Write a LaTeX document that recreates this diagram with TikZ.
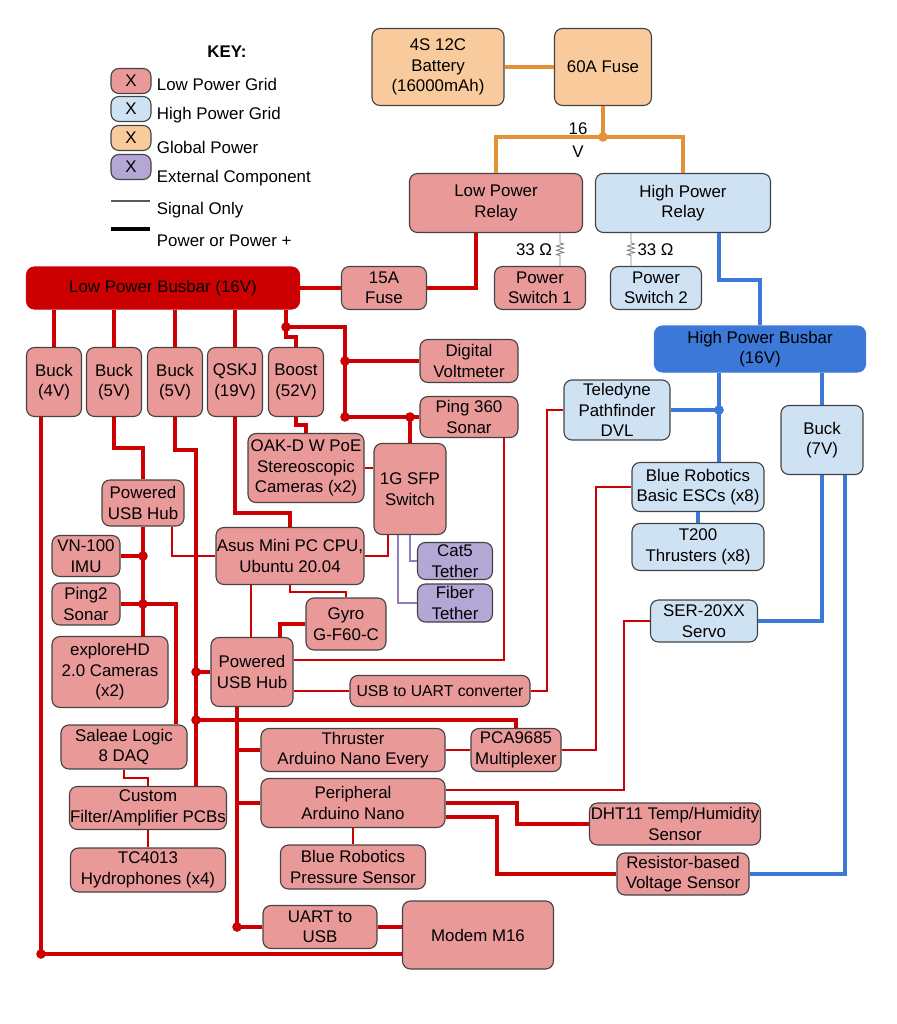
\documentclass[tikz,border=0pt]{standalone}
\usepackage{fontspec}
\setmainfont{Liberation Sans}
\usetikzlibrary{decorations.pathmorphing}
\definecolor{lpfill}{HTML}{EA9999}
\definecolor{lpline}{HTML}{CC0000}
\definecolor{hpfill}{HTML}{CFE2F3}
\definecolor{hpline}{HTML}{3C78D8}
\definecolor{gpfill}{HTML}{F9CB9C}
\definecolor{gpline}{HTML}{E69138}
\definecolor{exfill}{HTML}{B4A7D6}
\definecolor{exline}{HTML}{8E7CC3}
\definecolor{rim}{HTML}{434343}
\tikzset{
  box/.style 2 args={draw=rim,line width=0.8pt,rounded corners=0.2cm,align=center,
    inner sep=0.5pt,minimum width=#1*0.025cm,minimum height=#2*0.025cm},
  lp/.style={fill=lpfill},
  hp/.style={fill=hpfill},
  gp/.style={fill=gpfill},
  ex/.style={fill=exfill},
  pwr/.style={draw=lpline,line width=2.2pt},
  sig/.style={draw=lpline,line width=0.9pt},
  hpw/.style={draw=hpline,line width=2.2pt},
  gpw/.style={draw=gpline,line width=2.2pt},
  exw/.style={draw=exline,line width=0.9pt},
  dot/.style={fill=#1,draw=none,circle,minimum size=0.24cm,inner sep=0},
  res/.style={draw=gray,line width=0.6pt,decorate,
    decoration={zigzag,segment length=3pt,amplitude=2.5pt,pre length=7pt,post length=7pt}}
}
\begin{document}
\begin{tikzpicture}[x=0.025cm,y=-0.025cm,font=\fontsize{12}{14.6}\selectfont]
\useasboundingbox (0,0) rectangle (896,1024);

% key
\node[font=\fontsize{12}{14}\selectfont\bfseries] (key) at (227,52) {KEY:};
\node[box={40}{25},lp] (k1) at (131,81) {X};
\node[box={40}{25},hp] (k2) at (131,109) {X};
\node[box={40}{25},gp] (k3) at (131,138) {X};
\node[box={40}{25},ex] (k4) at (131,167) {X};
\node[anchor=west] (t1) at (152,84) {Low Power Grid};
\node[anchor=west] (t2) at (152,115) {High Power Grid};
\node[anchor=west] (t3) at (152,147) {Global Power};
\node[anchor=west] (t4) at (152,178) {External Component};
\node[anchor=west] (t5) at (152,210) {Signal Only};
\node[anchor=west] (t6) at (152,241) {Power or Power +};
\coordinate (s1) at (111,201);
\coordinate (s2) at (150,201);
\coordinate (p1) at (111,229);
\coordinate (p2) at (150,229);
\draw[gray!70!black,line width=1pt] (s1) -- (s2);
\draw[black,line width=2.5pt] (p1) -- (p2);

% global power
\node[box={132}{77},gp] (batt) at (438,67) {4S 12C\\Battery\\(16000mAh)};
\node[box={97}{77},gp] (fuse60) at (603,67) {60A Fuse};
\node[box={173}{59},lp] (lprelay) at (496,203) {Low Power\\Relay};
\node[box={175}{59},hp] (hprelay) at (683,203) {High Power\\Relay};
\node[box={85}{43},lp] (fuse15) at (384,288) {15A\\Fuse};
\node[box={91}{43},lp] (ps1) at (540,288) {Power\\Switch 1};
\node[box={91}{43},hp] (ps2) at (656,288) {Power\\Switch 2};
\node[box={273}{42},draw=lpline,fill=lpline] (lpbus) at (163,288) {Low Power Busbar (16V)};
\node[box={211}{46},draw=hpline,fill=hpline] (hpbus) at (760,349) {High Power Busbar\\(16V)};

% low power converters
\node[box={55}{69},lp] (bk1) at (54,382) {Buck\\(4V)};
\node[box={55}{69},lp] (bk2) at (114,382) {Buck\\(5V)};
\node[box={55}{69},lp] (bk3) at (175,382) {Buck\\(5V)};
\node[box={55}{69},lp] (bk4) at (235,382) {QSKJ\\(19V)};
\node[box={55}{69},lp] (boost) at (296,382) {Boost\\(52V)};

% low power devices
\node[box={98}{43},lp] (dvm) at (469,361) {Digital\\Voltmeter};
\node[box={98}{41},lp] (ping360) at (469,417) {Ping 360\\Sonar};
\node[box={116}{69},lp] (oak) at (306,468) {OAK-D W PoE\\Stereoscopic\\Cameras (x2)};
\node[box={72}{91},lp] (sw) at (410,489) {1G SFP\\Switch};
\node[box={75}{37},ex] (cat5) at (455,561) {Cat5\\Tether};
\node[box={75}{38},ex] (fiber) at (455,603) {Fiber\\Tether};
\node[box={148}{57},lp] (asus) at (290,556) {Asus Mini PC CPU,\\Ubuntu 20.04};
\node[box={82}{46},lp] (hub1) at (143,503) {Powered\\USB Hub};
\node[box={68}{41},lp] (imu) at (86,556) {VN-100\\IMU};
\node[box={68}{42},lp] (ping2) at (86,604) {Ping2\\Sonar};
\node[box={116}{71},lp] (explore) at (110,672) {exploreHD\\2.0 Cameras\\(x2)};
\node[box={80}{52},lp] (gyro) at (346,624) {Gyro\\G-F60-C};
\node[box={82}{69},lp] (hub2) at (252,672) {Powered\\USB Hub};
\node[box={180}{31},lp,font=\fontsize{11.2}{13}\selectfont] (usbuart) at (440,691) {USB to UART converter};
\node[box={126}{44},lp] (saleae) at (124,747) {Saleae Logic\\8 DAQ};
\node[box={155}{43},lp] (cpcb) at (148,808) {Custom\\Filter/Amplifier PCBs};
\node[box={155}{44},lp] (tc) at (148,870) {TC4013\\Hydrophones (x4)};
\node[box={184}{43},lp] (thr) at (353,750) {Thruster\\Arduino Nano Every};
\node[box={90}{43},lp] (pca) at (516,750) {PCA9685\\Multiplexer};
\node[box={184}{49},lp] (peri) at (353,803) {Peripheral\\Arduino Nano};
\node[box={171}{42},lp] (dht) at (675,824) {DHT11 Temp/Humidity\\Sensor};
\node[box={145}{44},lp] (press) at (353,867) {Blue Robotics\\Pressure Sensor};
\node[box={132}{42},lp] (rvs) at (683,874) {Resistor-based\\Voltage Sensor};
\node[box={114}{43},lp] (u2u) at (320,927) {UART to\\USB};
\node[box={151}{68},lp] (modem) at (478,935) {Modem M16};

% high power devices
\node[box={106}{60},hp] (dvl) at (617,410) {Teledyne\\Pathfinder\\DVL};
\node[box={82}{69},hp] (buck7) at (822,440) {Buck\\(7V)};
\node[box={132}{49},hp] (esc) at (698,487) {Blue Robotics\\Basic ESCs (x8)};
\node[box={132}{47},hp] (t200) at (698,547) {T200\\Thrusters (x8)};
\node[box={107}{42},hp] (servo) at (704,621) {SER-20XX\\Servo};

% global power lines
\coordinate (j16) at (603,137);
\draw[gpw] (batt) -- (fuse60);
\draw[gpw] (fuse60) -- (j16);
\draw[gpw] (j16) -| (lprelay.north);
\draw[gpw] (j16) -| (hprelay.north);
\node[dot=gpline] (d16) at (j16) {};
\node[align=center] (v16) at (578,140) {16\\[2pt]V};

% relay switches
\draw[res] (lprelay.south -| 560,0) -- (ps1.north -| 560,0) node[midway,left=2pt] {33 Ω};
\draw[res] (hprelay.south -| 631,0) -- (ps2.north -| 631,0) node[midway,right=1pt] {33 Ω};

% low power lines
\draw[pwr] (lprelay.south -| 476,0) |- (fuse15);
\draw[pwr] (lpbus) -- (fuse15);
\foreach \b in {bk1,bk2,bk3,bk4}
  \draw[pwr] (lpbus.south -| \b) -- (\b);
\coordinate (jb) at (286,327);
\draw[pwr] (lpbus.south -| jb) -- (jb) -- (286,337) -| (boost.north);
\draw[pwr] (jb) -| (345,417) -- (ping360);
\draw[pwr] (345,361) -- (dvm);
\draw[pwr] (sw) -- (sw |- ping360);
\draw[pwr] (boost.south) -- (296,425) -| (oak.north);
\draw[pwr] (bk4.south) -- (235,513) -| (asus.north);
\draw[pwr] (bk2.south) -- (114,448) -| (hub1.north);
\draw[pwr] (hub1) -- (hub1 |- explore.north);
\draw[pwr] (imu) -- (hub1 |- imu);
\draw[pwr] (ping2) -- (176,604) -- (saleae.north -| 176,0);
\draw[pwr] (bk3.south) -- (175,450) -- (196,450) -- (cpcb.north -| 196,0);
\draw[pwr] (hub2) -- (196,672);
\draw[pwr] (196,720) -| (pca.north);
\draw[pwr] (gyro) -| (hub2.north -| 280,0);
\draw[pwr] (hub2.south -| 237,0) -- (237,927) -- (u2u);
\draw[pwr] (237,750) -- (thr);
\draw[pwr] (237,803) -- (peri);
\draw[pwr] (u2u) -- (u2u -| modem.west);
\draw[pwr] (bk1.south -| 41,0) -- (41,954) -- (modem.west |- 41,954);
\draw[pwr] (peri) -- (517,803) |- (dht);
\draw[pwr] (peri.east |- 0,817) -- (497,817) |- (rvs);
\foreach \p in {(jb),(345,361),(345,417),(410,417),(143,556),(143,604),(196,672),(196,720),(237,927),(41,954)}
  \node[dot=lpline] at \p {};

% signal lines
\draw[sig] (oak) -- (oak -| sw.west);
\draw[sig] (asus) -- (388,556) -- (sw.south -| 388,0);
\draw[sig] (hub1.south -| 172,0) |- (asus);
\draw[sig] (asus.south -| 251,0) -- (hub2.north -| 251,0);
\draw[sig] (asus.south) -- (290,592) -| (gyro.north);
\draw[sig] (hub2.east |- 0,660) -| (ping360.south -| 504,0);
\draw[sig] (hub2.east |- usbuart) -- (usbuart);
\draw[sig] (usbuart) -- (547,691) |- (dvl);
\draw[sig] (thr) -- (pca);
\draw[sig] (pca) -- (596,750) |- (esc);
\draw[sig] (peri.east |- 0,790) -- (624,790) |- (servo);
\draw[sig] (peri) -- (press);
\draw[sig] (saleae.south) -- (124,778) -| (cpcb.north);
\draw[sig] (cpcb) -- (tc);

% external lines
\draw[exw] (sw.south) |- (cat5);
\draw[exw] (sw.south -| 398,0) |- (fiber);

% high power lines
\draw[hpw] (hprelay.south -| 719,0) -- (719,280) -| (hpbus.north);
\draw[hpw] (hpbus.south -| 719,0) -- (esc.north -| 719,0);
\draw[hpw] (dvl) -- (719,410);
\node[dot=hpline] (jd) at (719,410) {};
\draw[hpw] (hpbus.south -| buck7) -- (buck7);
\draw[hpw] (buck7.south) |- (servo);
\draw[hpw] (buck7.south -| 845,0) |- (rvs);
\draw[hpw] (esc) -- (t200);

\end{tikzpicture}
\end{document}
